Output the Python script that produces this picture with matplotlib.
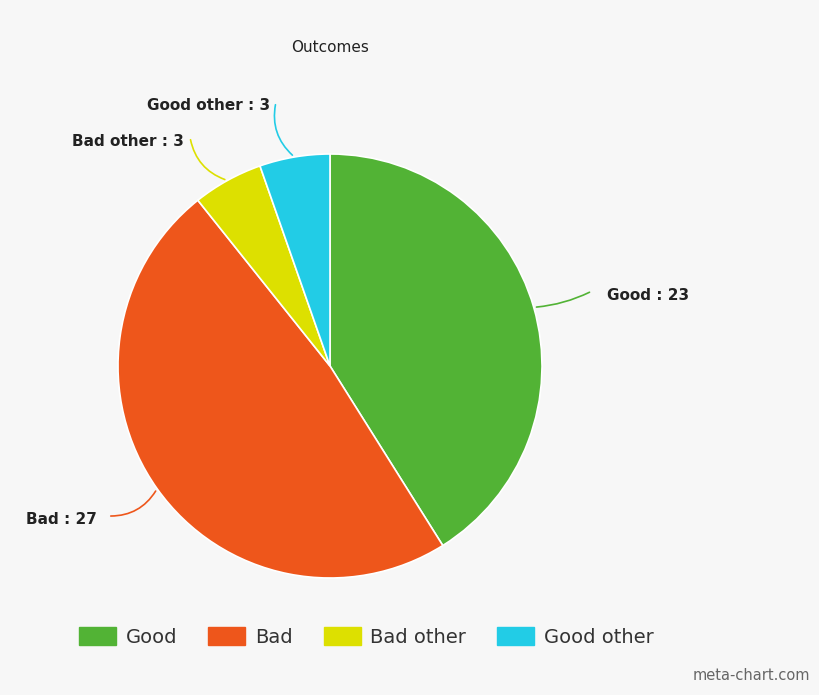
import matplotlib
matplotlib.use("Agg")
import matplotlib.pyplot as plt
import matplotlib.patches as mpatches
import numpy as np

categories = ["Good", "Bad", "Bad other", "Good other"]
values = [23, 27, 3, 3]
colors = ["#52b335", "#ee561b", "#dde000", "#22cce6"]
label_pos = [(607, 296), (26, 519), (72, 141), (147, 105)]
label_ha = ["left", "left", "left", "left"]
anchor = [(592, 291), (108, 516), (190, 137), (276, 102)]

W, H = 820, 695
fig = plt.figure(figsize=(8.2, 6.95), dpi=100, facecolor="#f7f7f7")
ax = fig.add_axes([0, 0, 1, 1])
ax.set_facecolor("#f7f7f7")
ax.set_xlim(0, W); ax.set_ylim(0, H); ax.set_aspect("equal"); ax.axis("off")

cx, cy, r = 330, H - 366, 212
wedges, _ = ax.pie(values, colors=colors, startangle=90, counterclock=False,
                   center=(cx, cy), radius=r, frame=True,
                   wedgeprops=dict(edgecolor="white", linewidth=1.2))
ax.set_xlim(0, W); ax.set_ylim(0, H); ax.axis("off")

total = sum(values)
start = 90.0
for v, c, lab, (tx, ty), (axx, ayy) in zip(values, colors, categories, label_pos, anchor):
    mid = start - v / total * 180
    start -= v / total * 360
    ex = cx + r * np.cos(np.radians(mid))
    ey = cy + r * np.sin(np.radians(mid))
    ax.annotate("", xy=(ex, ey), xytext=(axx, H - ayy),
                arrowprops=dict(arrowstyle="-", color=c, lw=1.2,
                                connectionstyle="arc3,rad=0.3" if ex < cx else "arc3,rad=-0.1"))
    ax.text(tx, H - ty, f"{lab} : {v}", fontsize=11, fontweight="bold",
            ha="left", va="center", color="#222222")

ax.text(330, H - 47, "Outcomes", fontsize=11, ha="center", va="center", color="#222222")
ax.text(810, H - 675, "meta-chart.com", fontsize=10.5, ha="right", va="center", color="#666666")

handles = [mpatches.Patch(color=c, label=l) for c, l in zip(colors, categories)]
fig.legend(handles=handles, loc="center left", bbox_to_anchor=(0.075, 0.084), ncol=4,
           frameon=False, fontsize=14, handlelength=1.9, handleheight=1.1,
           columnspacing=1.6, handletextpad=0.5, labelcolor="#333333")

fig.savefig("out.png", dpi=100, facecolor="#f7f7f7")
